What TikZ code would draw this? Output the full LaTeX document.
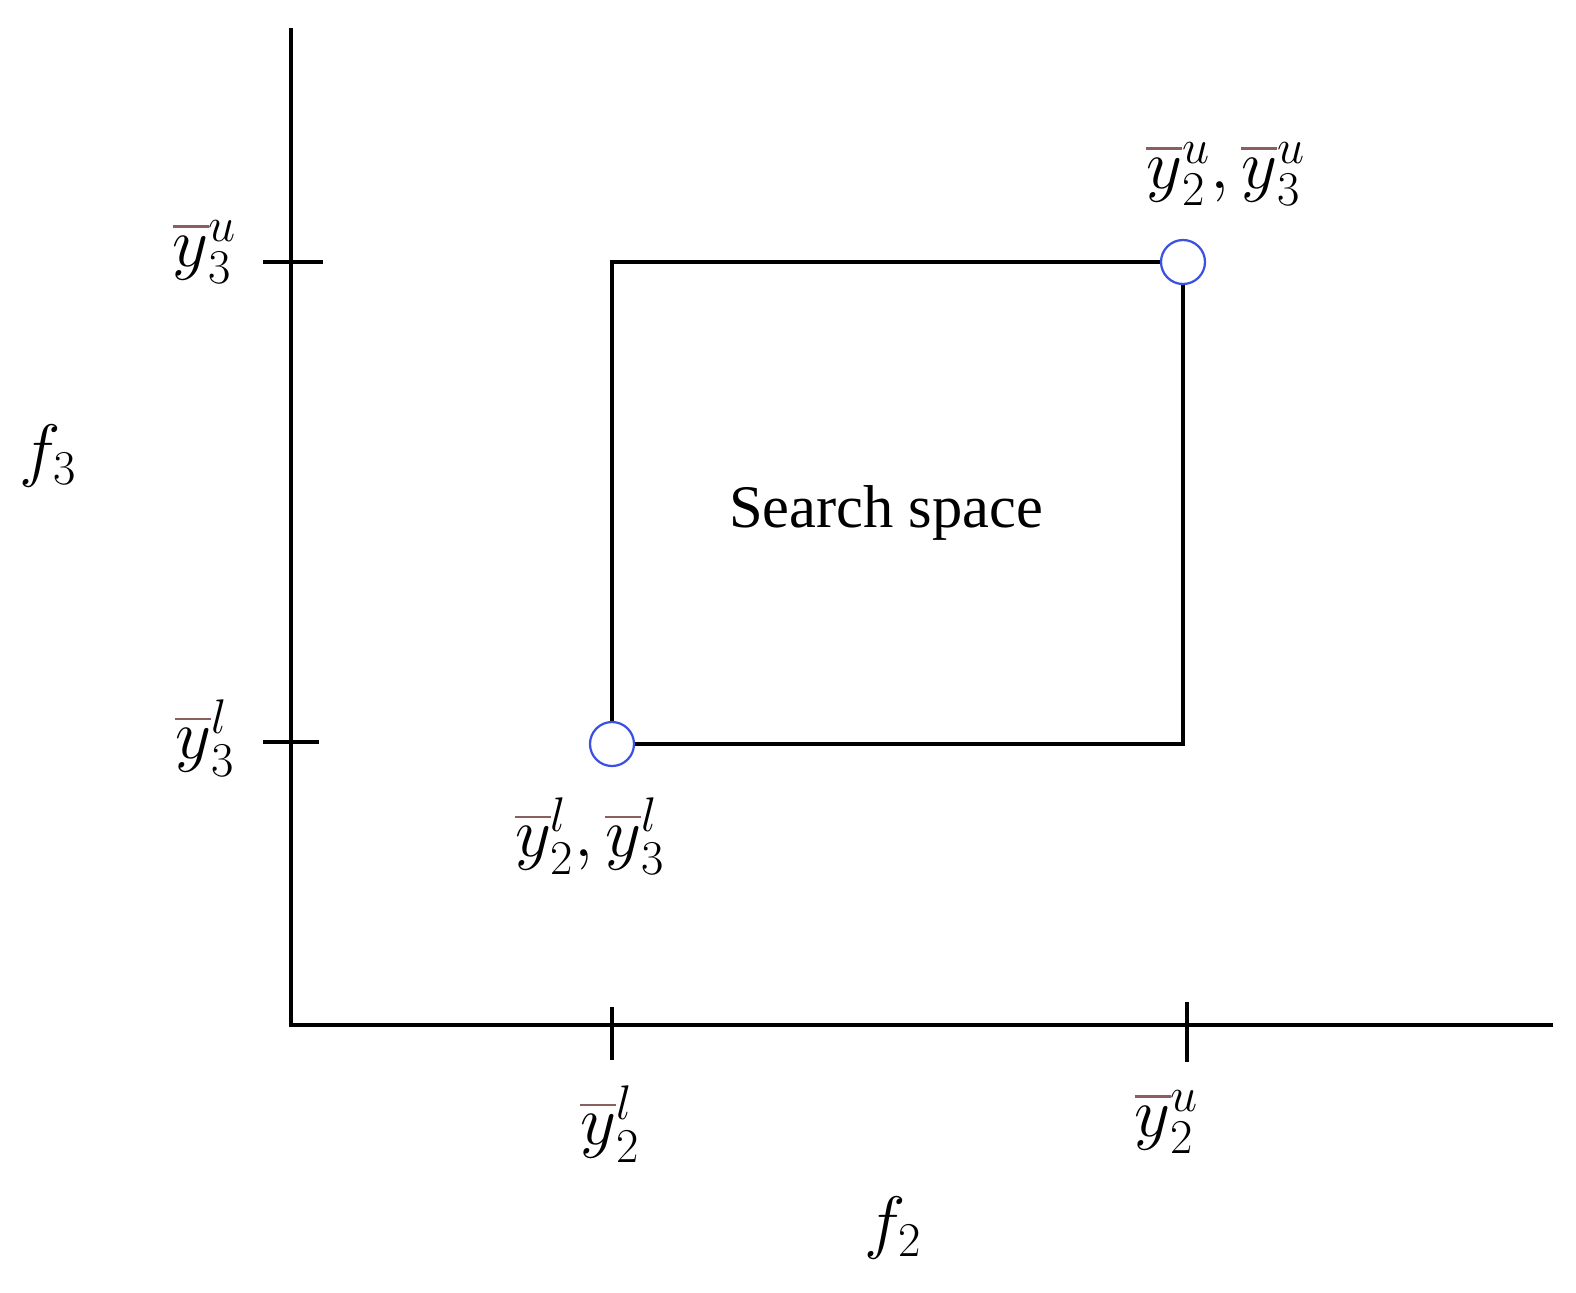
\documentclass[tikz,border=0pt]{standalone}
\usepackage[no-math]{fontspec}
\setmainfont{Liberation Serif}
\usepackage{amsmath}
\usepackage{xcolor}
\usetikzlibrary{positioning}
\definecolor{barbrown}{RGB}{140,95,95}
\definecolor{endblue}{RGB}{60,80,225}
\newcommand{\yb}{{\color{barbrown}\overline{\color{black}y}}}

\begin{document}
\begin{tikzpicture}[x=0.0125cm, y=-0.0125cm,
  axis/.style={line width=1.1pt, black},
  lbl/.style={font=\fontsize{24}{28}\selectfont, inner sep=0pt},
  endpt/.style={circle, draw=endblue, line width=0.8pt, fill=white, minimum size=0.55cm, inner sep=0pt}]
\useasboundingbox (0,0) rectangle (1576,1292);

% Axes
\coordinate (ytop) at (291,28);
\coordinate (O) at (291,1025);
\coordinate (xend) at (1553,1025);
\draw[axis] (ytop) -- (O) -- (xend);
\node[lbl] (f3) at (48,456) {$f_3$};
\node[lbl] (f2) at (893,1228) {$f_2$};

% Ticks on f3
\coordinate (t3u) at (291,262);
\coordinate (t3l) at (291,742);
\draw[axis] ([xshift=-0.35cm]t3u) -- ([xshift=0.4cm]t3u);
\draw[axis] ([xshift=-0.35cm]t3l) -- ([xshift=0.35cm]t3l);
\node[lbl] (y3u) at (205,252) {$\yb_3^u$};
\node[lbl] (y3l) at (205,738) {$\yb_3^l$};

% Ticks on f2
\coordinate (t2l) at (612,1025);
\coordinate (t2u) at (1187,1025);
\draw[axis] ([yshift=0.23cm]t2l) -- ([yshift=-0.44cm]t2l);
\draw[axis] ([yshift=0.29cm]t2u) -- ([yshift=-0.46cm]t2u);
\node[lbl] (y2l) at (610,1124) {$\yb_2^l$};
\node[lbl] (y2u) at (1167,1122) {$\yb_2^u$};

% Search space
\coordinate (lo) at (612,744);
\coordinate (hi) at (1183,262);
\draw[axis] (lo) |- (hi) |- (lo);
\node[font=\fontsize{21.5}{26}\selectfont] (space) at (886,513) {Search space};

% Corner points
\node[endpt] (plo) at (lo) {};
\node[endpt] (phi) at (hi) {};
\node[lbl] (llo) at (590,836) {$\yb_2^l, \yb_3^l$};
\node[lbl] (lhi) at (1226,174) {$\yb_2^u, \yb_3^u$};
\end{tikzpicture}
\end{document}
